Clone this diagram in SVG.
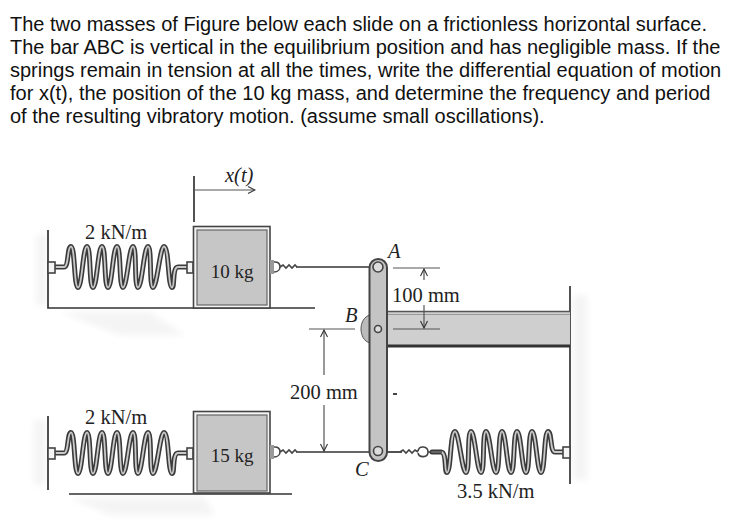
<svg xmlns="http://www.w3.org/2000/svg" xmlns:xlink="http://www.w3.org/1999/xlink" width="734" height="521" viewBox="0 0 734 521">
<style>
.q{font-family:"Liberation Sans",Arial,sans-serif;font-size:20px;fill:#111}
.l{font-family:"Liberation Serif","Times New Roman",serif;font-size:20.5px;fill:#222}
.i{font-style:italic}
.ln{fill:none;stroke:#333;stroke-width:1.7}
.thin{fill:none;stroke:#555;stroke-width:1.2}
.sd{fill:none;stroke:#3a3a3a;stroke-width:5;stroke-linecap:round;stroke-linejoin:round}
.sl{fill:none;stroke:#c8c8c8;stroke-width:1.8;stroke-linecap:round;stroke-linejoin:round}
.out{fill:#f4f4f4;stroke:#444;stroke-width:1.6}
.in{fill:#c6c6c6;stroke:#666;stroke-width:1.2}
.pin{fill:#ddd;stroke:#444;stroke-width:1.6}
.hook{fill:none;stroke:#444;stroke-width:1.6}
.blob{fill:#999}
</style>
<defs>
<path id="coil" d="M56 23H64C69 23 67 2.500 71 2.500C75 2.500 74 43.500 78 43.500C82 43.500 83 2.500 87 2.500C91 2.500 89 43.500 93 43.500C97 43.500 98 2.500 102 2.500C106 2.500 104 43.500 108 43.500C112 43.500 113 2.500 117 2.500C121 2.500 119 43.500 123 43.500C127 43.500 129 2.500 133 2.500C137 2.500 134 43.500 138 43.500C142 43.500 144 2.500 148 2.500C152 2.500 149 43.500 153 43.500C157 43.500 160 2.500 164 2.500C169 2.500 168 43.500 172 43.500C175 43.500 172 23 178 23H187"/>
<g id="spring"><use xlink:href="#coil" href="#coil" class="sd"/><use xlink:href="#coil" href="#coil" class="sl"/></g>
<marker id="ah" markerWidth="9" markerHeight="8" refX="8" refY="4" orient="auto" markerUnits="userSpaceOnUse"><path d="M1 0.500L8 4L1 7.500" fill="none" stroke="#333" stroke-width="1.100"/></marker>
<filter id="bl"><feGaussianBlur stdDeviation="3"/></filter>
</defs>
<rect width="734" height="521" fill="#fff"/>
<g id="problem-text" class="q">
<text x="10" y="31">The two masses of Figure below each slide on a frictionless horizontal surface.</text>
<text x="10" y="54">The bar ABC is vertical in the equilibrium position and has negligible mass. If the</text>
<text x="10" y="77">springs remain in tension at all the times, write the differential equation of motion</text>
<text x="10" y="100">for x(t), the position of the 10 kg mass, and determine the frequency and period</text>
<text x="10" y="123">of the resulting vibratory motion. (assume small oscillations).</text>
</g>
<g id="shading" filter="url(#bl)" fill="#f4f4f4">
<rect x="36" y="235" width="11" height="70"/><rect x="34" y="420" width="12" height="65"/><rect x="573" y="295" width="14" height="185"/>
<path d="M60 312H150L185 335H120Z"/><path d="M70 498H205L215 515H110Z"/>
</g>
<g id="mass-10kg">
<path class="ln" d="M48 230V308H315"/>
<use xlink:href="#spring" href="#spring" y="244"/>
<rect class="out" x="48" y="262" width="7" height="11"/>
<rect class="out" x="187" y="262" width="6" height="11"/>
<rect class="out" x="193.500" y="226.500" width="76.500" height="81.500"/>
<rect class="in" x="197" y="230" width="70" height="75"/>
<text class="l" x="232" y="278" text-anchor="middle" style="font-size:19px">10 kg</text>
</g>
<g id="mass-15kg">
<path class="ln" d="M48 416V490M69 494H292"/>
<use xlink:href="#spring" href="#spring" y="430"/>
<rect class="out" x="48" y="448" width="7" height="11"/>
<rect class="out" x="187" y="448" width="6" height="11"/>
<rect class="out" x="193.500" y="411.500" width="76.500" height="81.500"/>
<rect class="in" x="197" y="415" width="70" height="76"/>
<text class="l" x="232" y="462" text-anchor="middle" style="font-size:19px">15 kg</text>
</g>
<g id="beam">
<path class="ln" d="M570 286V484"/>
<rect x="387" y="311" width="183" height="35" fill="#cfcfcf"/>
<path d="M387 311.500H570" stroke="#555" stroke-width="1.500" fill="none"/><path d="M387 314.500H570" stroke="#999" stroke-width="1" fill="none"/><path d="M387 346H570" stroke="#333" stroke-width="3" fill="none"/>
<use xlink:href="#spring" href="#spring" transform="translate(619 429)scale(-1 1)"/>
<rect class="out" x="563" y="447" width="7" height="11"/>
<path d="M393 394H397" stroke="#444" stroke-width="2"/>
</g>
<g id="connectors">
<path class="ln" d="M296 267H369"/><path class="ln" d="M296 452H369"/>
<rect class="blob" x="270" y="260" width="4" height="14"/><rect class="blob" x="270" y="445" width="4" height="14"/>
<path class="hook" d="M274 262C282 261 282 272 274 272M280 267l3 -2l3 3l3 -3l3 3l3 -3l2 2"/>
<path class="hook" d="M274 447C282 446 282 457 274 457M280 452l3 -2l3 3l3 -3l3 3l3 -3l2 2"/>
<path class="ln" d="M387 452H402"/>
<path class="hook" d="M400 452l3 -2l3 3l3 -3l3 3l3 -3l3 2M418 451C419 445 428 446 428 452C428 458 419 458 418 453M428 452H442"/>
<g id="dim-x"><path class="ln" d="M194 176V222"/><path class="thin" d="M194 190H255" marker-end="url(#ah)"/></g>
<g id="dim-200"><path class="thin" d="M309 329H355M324 375V330" marker-end="url(#ah)"/><path class="thin" d="M324 405V451" marker-end="url(#ah)"/></g>
<g id="dim-100"><path class="thin" d="M393 268H440M424 280V269" marker-end="url(#ah)"/><path class="thin" d="M393 329H440M424 305V328" marker-end="url(#ah)"/></g>
</g>
<g id="bar-abc">
<path d="M370 315C358 318 358 340 370 343Z" fill="#bbb" stroke="#555"/>
<rect x="369.500" y="259" width="17.500" height="202" rx="8.700" fill="#c4c4c4" stroke="#444" stroke-width="2"/>
<circle class="pin" cx="378" cy="267" r="5"/><circle class="pin" cx="378" cy="329" r="3.500"/><circle class="pin" cx="378" cy="451" r="4.500"/>
</g>
<g id="labels" class="l">
<text x="85" y="239">2 kN/m</text>
<text x="85" y="423.500">2 kN/m</text>
<text class="l i" x="225" y="182">x(t)</text>
<text class="l i" x="388" y="258">A</text>
<text class="l i" x="345" y="322">B</text>
<text class="l i" x="355" y="476">C</text>
<text x="392" y="302">100 mm</text>
<text x="290" y="399">200 mm</text>
<text x="457" y="498">3.5 kN/m</text>
</g>
</svg>
